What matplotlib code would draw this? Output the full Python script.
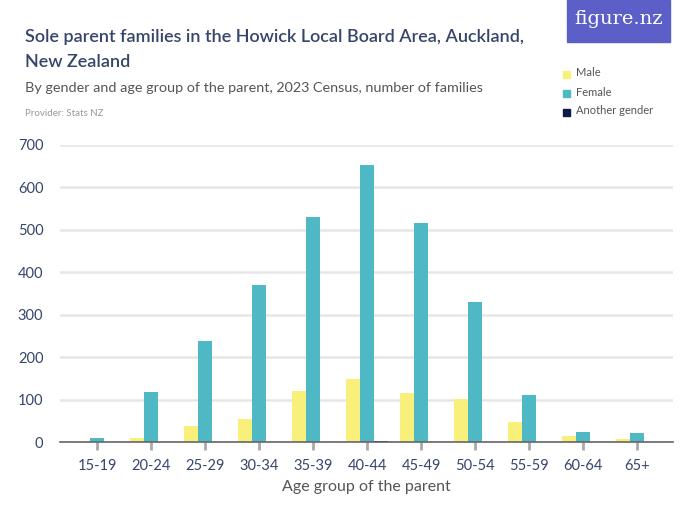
import numpy as np
import matplotlib
matplotlib.use("Agg")
import matplotlib.pyplot as plt
from matplotlib.patches import Rectangle

# -------------------- data --------------------
age_groups = ["15-19", "20-24", "25-29", "30-34", "35-39", "40-44",
              "45-49", "50-54", "55-59", "60-64", "65+"]
male = [3, 10, 37, 55, 121, 148, 115, 102, 48, 15, 6]
female = [9, 118, 238, 370, 531, 652, 516, 330, 111, 24, 21]
another = [0, 0, 0, 0, 0, 3, 0, 0, 0, 0, 0]
y_ticks = [0, 100, 200, 300, 400, 500, 600, 700]

# -------------------- style --------------------
c_male = "#f8f07a"
c_female = "#4fb8c5"
c_another = "#0c1a45"
c_title = "#36456a"
c_text = "#555555"

plt.rcParams["font.family"] = ["Lato", "DejaVu Sans"]

fig = plt.figure(figsize=(7, 5.25), dpi=100)
W, H = 700, 525
ax = fig.add_axes([60 / W, 1 - 442 / H, (673 - 60) / W, (442 - 145) / H])

x = np.arange(len(age_groups))
bw = 0.26
ax.bar(x - bw, male, bw, color=c_male, label="Male")
ax.bar(x, female, bw, color=c_female, label="Female")
ax.bar(x + bw, another, bw, color=c_another, label="Another gender")

ax.set_ylim(0, 700)
ax.set_xlim(-0.69, 10.66)
ax.set_yticks(y_ticks)
ax.set_yticklabels([str(v) for v in y_ticks], fontsize=10.5, color=c_title)
ax.tick_params(axis="y", length=0, pad=12)
ax.set_xticks(x)
ax.set_xticklabels(age_groups, fontsize=10.5, color=c_title)
ax.tick_params(axis="x", length=6, width=2, color="#aaaaaa", pad=6)
ax.grid(axis="y", color="#e6e6e6", linewidth=1.8)
ax.set_axisbelow(True)
for s in ["top", "right", "left"]:
    ax.spines[s].set_visible(False)
ax.spines["bottom"].set_color("#666666")
ax.spines["bottom"].set_linewidth(1.2)
ax.set_xlabel("Age group of the parent", fontsize=11.5, color=c_text, labelpad=5)

# -------------------- titles --------------------
fig.text(25 / W, 1 - 37 / H, "Sole parent families in the Howick Local Board Area, Auckland,",
         fontsize=13, color=c_title, va="center", fontweight="semibold")
fig.text(25 / W, 1 - 62 / H, "New Zealand", fontsize=13, color=c_title, va="center",
         fontweight="semibold")
fig.text(25 / W, 1 - 88 / H, "By gender and age group of the parent, 2023 Census, number of families",
         fontsize=10.4, color=c_text, va="center")
fig.text(25 / W, 1 - 113 / H, "Provider: Stats NZ", fontsize=7, color="#999999", va="center")

# -------------------- legend --------------------
for i, (lab, col) in enumerate([("Male", c_male), ("Female", c_female),
                                ("Another gender", c_another)]):
    yy = 73 + i * 19
    fig.patches.append(Rectangle((563 / W, 1 - (yy + 5) / H), 7 / W, 7 / H,
                                 transform=fig.transFigure, color=col))
    fig.text(576 / W, 1 - yy / H, lab, fontsize=8, color=c_text, va="center")

# -------------------- logo --------------------
fig.patches.append(Rectangle((567 / W, 1 - 42 / H), 103 / W, 42 / H,
                             transform=fig.transFigure, color="#5b5fc7"))
fig.text(619 / W, 1 - 19 / H, "figure.nz", fontsize=14, color="white",
         ha="center", va="center", family=["DejaVu Serif"])

fig.savefig("out.png", dpi=100)
